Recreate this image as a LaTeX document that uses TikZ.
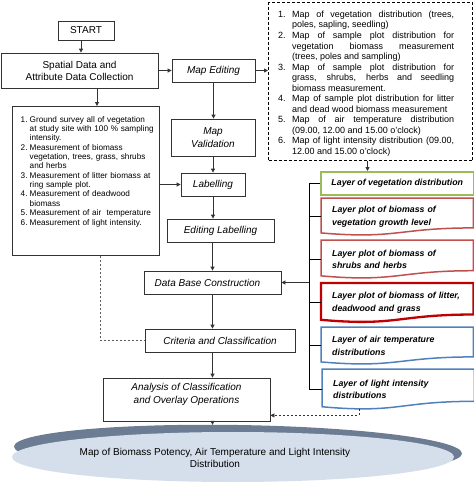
\documentclass[tikz,border=0pt]{standalone}
\usepackage{fontspec}
\setmainfont{Liberation Sans}
\usetikzlibrary{arrows.meta,calc,shapes.geometric}
\definecolor{lgreen}{HTML}{9BBB59}
\definecolor{lred}{HTML}{C0504D}
\definecolor{dred}{HTML}{C00000}
\definecolor{lblue}{HTML}{4F81BD}
\definecolor{edge}{HTML}{333333}
\definecolor{ellfill}{HTML}{D5DFEB}
\definecolor{elldark}{HTML}{6C7D93}
\newcommand\docpath[2]{%
  \draw[#2] (#1.north west) -- (#1.north east) -- ($(#1.north east)!0.8!(#1.south east)$)
   .. controls ($(#1.north)!0.8!(#1.south)$) and ($(#1.north)!1.107!(#1.south)$) ..
   ($(#1.north west)!0.934!(#1.south west)$) -- cycle;}
\newcommand\gitm[1]{\par\noindent\hangindent=9pt\hangafter=1\makebox[9pt][l]{#1}}
\newcommand\ditm[1]{\par\noindent\hangindent=14pt\hangafter=1\makebox[14pt][l]{#1}}
\tikzset{
  flowbox/.style={draw=edge, line width=0.8pt, inner sep=0pt, align=center,
    font=\fontsize{10}{13}\selectfont\itshape},
  upbox/.style={flowbox, font=\fontsize{10}{12}\selectfont},
  arr/.style={draw=edge, line width=0.8pt, -{Triangle[length=4pt,width=4pt]}},
  ln/.style={draw=black, line width=0.8pt},
  layer/.style={inner xsep=11pt, inner ysep=0pt, text width=130pt, align=left,
    minimum width=152pt, anchor=north west,
    font=\fontsize{8.8}{12.5}\selectfont\bfseries\itshape},
}
\begin{document}
\begin{tikzpicture}[x=1pt,y=-1pt]
\useasboundingbox (0,0) rectangle (474,485);
% bottom ellipse
\node[ellipse, fill=elldark, minimum width=448pt, minimum height=50pt, inner sep=0pt, rotate=-0.9] (ellD) at (238,450) {};
\node[ellipse, fill=ellfill, minimum width=442pt, minimum height=50pt, inner sep=0pt] (ellL) at (233,457) {};
\node[font=\fontsize{10}{12}\selectfont, align=center, inner sep=0pt] (ellT) at (215,458)
  {Map of Biomass Potency, Air Temperature and Light Intensity\\Distribution};
% flow boxes
\node[upbox, minimum width=56pt, minimum height=19pt] (start) at (86,30.5) {START};
\node[upbox, minimum width=157pt, minimum height=35pt] (spatial) at (79.5,70.5) {Spatial Data and\\Attribute Data Collection};
\node[flowbox, minimum width=83pt, minimum height=23pt] (mapedit) at (213.5,70.5) {Map Editing};
\node[flowbox, minimum width=84pt, minimum height=37pt] (mapval) at (213,137.5) {Map\\Validation};
\node[flowbox, minimum width=64pt, minimum height=23pt] (label) at (213,184.5) {Labelling};
\node[flowbox, minimum width=107pt, minimum height=23pt] (editlab) at (220.5,230.5) {Editing Labelling};
\node[flowbox, minimum width=137pt, minimum height=23pt] (db) at (212.5,282.5) {Data Base Construction\hspace*{10pt}};
\node[flowbox, minimum width=150pt, minimum height=23pt] (crit) at (220,340.5) {Criteria and Classification};
\node[flowbox, minimum width=167pt, minimum height=43pt] (anal) at (186.5,399.5) {};
\node[font=\fontsize{10}{13}\selectfont\itshape, align=center, inner sep=0pt] (analT) at (186.5,394.5)
  {Analysis of Classification\\and Overlay Operations};
% ground survey box
\node[draw=edge, line width=0.8pt, minimum width=147pt, minimum height=149pt, anchor=north west, inner sep=0pt] (ground) at (12,106) {};
\node[anchor=north west, inner sep=0pt, text width=134pt, align=left,
  font=\fontsize{8.2}{9.36}\selectfont] (gtext) at (20.5,112.5) {%
\gitm{1.}\strut Ground survey all of vegetation\newline at study site with 100 \% sampling\newline intensity.
\gitm{2.}Measurement of biomass\newline vegetation, trees, grass, shrubs\newline and herbs
\gitm{3.}Measurement of litter biomass at\newline ring sample plot.
\gitm{4.}Measurement of deadwood\newline biomass
\gitm{5.}Measurement of air~ temperature
\gitm{6.}Measurement of light intensity.\par};
% dashed map box
\node[draw=black, dash pattern=on 3pt off 2pt, line width=1pt, minimum width=204pt, minimum height=158pt, anchor=north west, inner sep=0pt] (dbox) at (268,2) {};
\node[anchor=north west, inner sep=0pt, text width=176pt, align=justify,
  font=\fontsize{9}{10.55}\selectfont] (dtext) at (278,6.6) {%
\tolerance=10000\hbadness=10000
\ditm{1.}\strut Map of vegetation distribution (trees,\linebreak poles, sapling, seedling)
\ditm{2.}Map of sample plot distribution for\linebreak vegetation biomass measurement\linebreak (trees, poles and sampling)
\ditm{3.}Map of sample plot distribution for\linebreak grass, shrubs, herbs and seedling\linebreak biomass measurement.
\ditm{4.}Map of sample plot distribution for litter\linebreak and dead wood biomass measurement
\ditm{5.}Map of air temperature distribution\linebreak (09.00, 12.00 and 15.00 o'clock)
\ditm{6.}Map of light intensity distribution (09.00,\linebreak 12.00 and 15.00 o'clock)\par};
% layer boxes
\node[draw=lgreen, line width=1.5pt, minimum width=153pt, minimum height=23pt, anchor=north west, inner sep=0pt,
  font=\fontsize{8.8}{12.5}\selectfont\bfseries\itshape] (L1) at (320,171) {Layer of vegetation distribution};
\node[layer, minimum height=37pt] (L2) at (321,198) {Layer plot of biomass of\\vegetation growth level};
\node[layer, minimum height=38pt] (L3) at (321,240) {Layer plot of biomass of\\shrubs and herbs};
\node[layer, minimum height=39pt] (L4) at (321,283) {Layer plot of biomass of litter,\\deadwood and grass};
\node[layer, minimum height=37pt] (L5) at (321,327) {Layer of air temperature\\distributions};
\node[layer, minimum height=40pt, minimum width=150pt] (L6) at (322,369) {Layer of light intensity\\distributions};
\docpath{L2}{lred, line width=1.5pt}
\docpath{L3}{lred, line width=1.5pt}
\docpath{L4}{dred, line width=2.3pt}
\docpath{L5}{lblue, line width=1.5pt}
\docpath{L6}{lblue, line width=1.5pt}
% connectors
\coordinate (c1) at ($(start.south)+(-5,0)$);
\draw[arr] (c1) -- (c1 |- spatial.north);
\coordinate (c2) at ($(spatial.south)+(17.5,0)$);
\draw[arr] (c2) -- (c2 |- ground.north);
\draw[arr] (spatial.east) -- (mapedit.west);
\draw[arr] (mapedit.east) -- (mapedit.east -| dbox.west);
\draw[arr] (mapedit.south) -- (mapedit.south |- mapval.north);
\draw[arr] (mapval.south) -- (mapval.south |- label.north);
\draw[arr] (ground.east |- label.west) -- (label.west);
\draw[arr] (label.south) -- (label.south |- editlab.north);
\draw[arr] (db.north |- editlab.south) -- (db.north);
\draw[arr] (db.south) -- (db.south |- crit.north);
\draw[arr] (db.south |- crit.south) -- (db.south |- anal.north);
\draw[arr] (db.south |- anal.south) -- (db.south |- ellD.north);
\coordinate (c3) at ($(ground.south)+(14.5,0)$);
\draw[draw=edge!80, line width=0.8pt, dash pattern=on 2pt off 2pt] (c3) |- (crit.west);
\coordinate (c4) at ($(dbox.south)+(-3,0)$);
\draw[arr] (c4) -- (c4 |- L1.north);
\coordinate (bus) at (309,0);
\draw[ln] (bus |- L1.west) -- (bus |- L6.west);
\foreach \n in {L1,L2,L3,L4,L5,L6} \draw[ln] (bus |- \n.west) -- (\n.west);
\draw[arr] (bus |- db.east) -- (db.east);
\coordinate (c5) at ($(L6.south)+(-39,0)$);
\coordinate (c6) at ($(anal.south east)+(0,-6)$);
\draw[arr, dash pattern=on 2pt off 2pt] (c5) |- (c6);
\end{tikzpicture}
\end{document}
